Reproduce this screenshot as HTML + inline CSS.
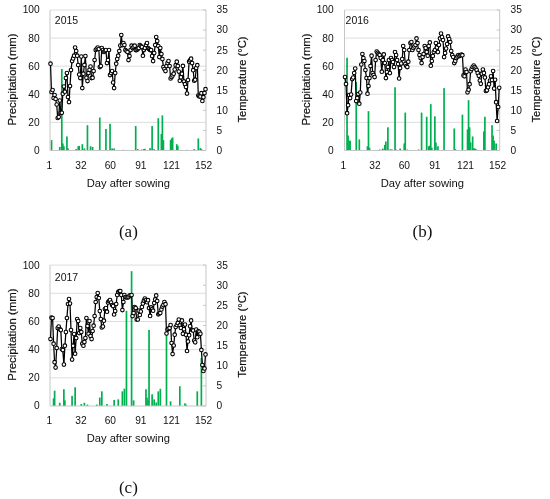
<!DOCTYPE html>
<html lang="en">
<head>
<meta charset="utf-8">
<title>Precipitation and temperature by day after sowing, 2015-2017</title>
<style>
html,body{margin:0;padding:0;background:#fff;}
body{width:550px;height:499px;overflow:hidden;}
svg{display:block;}
</style>
</head>
<body>
<svg width="550" height="499" viewBox="0 0 550 499">
<rect width="550" height="499" fill="#fff"/>
<line x1="50" y1="122.40" x2="206.0" y2="122.40" stroke="#d9d9d9" stroke-width="0.9"/>
<line x1="50" y1="94.30" x2="206.0" y2="94.30" stroke="#d9d9d9" stroke-width="0.9"/>
<line x1="50" y1="66.20" x2="206.0" y2="66.20" stroke="#d9d9d9" stroke-width="0.9"/>
<line x1="50" y1="38.10" x2="206.0" y2="38.10" stroke="#d9d9d9" stroke-width="0.9"/>
<line x1="50" y1="10.00" x2="206.0" y2="10.00" stroke="#d9d9d9" stroke-width="0.9"/>
<rect x="50.69" y="140.10" width="1.7" height="10.40" fill="#00b050"/>
<rect x="58.90" y="146.99" width="1.7" height="3.51" fill="#00b050"/>
<rect x="60.95" y="69.01" width="1.7" height="81.49" fill="#00b050"/>
<rect x="61.98" y="143.47" width="1.7" height="7.03" fill="#00b050"/>
<rect x="63.01" y="146.28" width="1.7" height="4.21" fill="#00b050"/>
<rect x="66.08" y="136.45" width="1.7" height="14.05" fill="#00b050"/>
<rect x="67.11" y="148.39" width="1.7" height="2.11" fill="#00b050"/>
<rect x="75.32" y="149.09" width="1.7" height="1.41" fill="#00b050"/>
<rect x="77.37" y="146.28" width="1.7" height="4.21" fill="#00b050"/>
<rect x="78.40" y="145.86" width="1.7" height="4.64" fill="#00b050"/>
<rect x="81.48" y="144.18" width="1.7" height="6.32" fill="#00b050"/>
<rect x="83.53" y="148.39" width="1.7" height="2.11" fill="#00b050"/>
<rect x="86.61" y="125.21" width="1.7" height="25.29" fill="#00b050"/>
<rect x="89.69" y="146.28" width="1.7" height="4.21" fill="#00b050"/>
<rect x="91.74" y="146.99" width="1.7" height="3.51" fill="#00b050"/>
<rect x="98.93" y="117.48" width="1.7" height="33.02" fill="#00b050"/>
<rect x="105.08" y="129.00" width="1.7" height="21.50" fill="#00b050"/>
<rect x="109.19" y="123.81" width="1.7" height="26.70" fill="#00b050"/>
<rect x="111.24" y="148.39" width="1.7" height="2.11" fill="#00b050"/>
<rect x="113.29" y="148.39" width="1.7" height="2.11" fill="#00b050"/>
<rect x="122.53" y="149.80" width="1.7" height="0.70" fill="#00b050"/>
<rect x="134.85" y="126.05" width="1.7" height="24.45" fill="#00b050"/>
<rect x="136.90" y="149.09" width="1.7" height="1.41" fill="#00b050"/>
<rect x="141.01" y="149.52" width="1.7" height="0.98" fill="#00b050"/>
<rect x="143.06" y="149.09" width="1.7" height="1.41" fill="#00b050"/>
<rect x="144.08" y="148.81" width="1.7" height="1.69" fill="#00b050"/>
<rect x="149.22" y="148.11" width="1.7" height="2.39" fill="#00b050"/>
<rect x="151.27" y="126.05" width="1.7" height="24.45" fill="#00b050"/>
<rect x="153.32" y="149.09" width="1.7" height="1.41" fill="#00b050"/>
<rect x="157.43" y="118.19" width="1.7" height="32.31" fill="#00b050"/>
<rect x="160.51" y="134.06" width="1.7" height="16.44" fill="#00b050"/>
<rect x="161.53" y="115.38" width="1.7" height="35.12" fill="#00b050"/>
<rect x="162.56" y="140.10" width="1.7" height="10.40" fill="#00b050"/>
<rect x="169.74" y="140.10" width="1.7" height="10.40" fill="#00b050"/>
<rect x="170.77" y="138.42" width="1.7" height="12.08" fill="#00b050"/>
<rect x="171.79" y="137.43" width="1.7" height="13.07" fill="#00b050"/>
<rect x="175.90" y="144.18" width="1.7" height="6.32" fill="#00b050"/>
<rect x="176.93" y="145.72" width="1.7" height="4.78" fill="#00b050"/>
<rect x="186.16" y="149.80" width="1.7" height="0.70" fill="#00b050"/>
<rect x="193.35" y="149.09" width="1.7" height="1.41" fill="#00b050"/>
<rect x="197.45" y="138.42" width="1.7" height="12.08" fill="#00b050"/>
<rect x="199.51" y="148.11" width="1.7" height="2.39" fill="#00b050"/>
<rect x="200.53" y="149.09" width="1.7" height="1.41" fill="#00b050"/>
<line x1="50" y1="10" x2="50" y2="150.5" stroke="#c6c6c6" stroke-width="1"/>
<line x1="206.0" y1="10" x2="206.0" y2="150.5" stroke="#c6c6c6" stroke-width="1"/>
<line x1="50" y1="150.5" x2="206.0" y2="150.5" stroke="#c6c6c6" stroke-width="1"/>
<line x1="203.0" y1="150.50" x2="206.0" y2="150.50" stroke="#bfbfbf" stroke-width="0.9"/>
<line x1="203.0" y1="130.43" x2="206.0" y2="130.43" stroke="#bfbfbf" stroke-width="0.9"/>
<line x1="203.0" y1="110.36" x2="206.0" y2="110.36" stroke="#bfbfbf" stroke-width="0.9"/>
<line x1="203.0" y1="90.29" x2="206.0" y2="90.29" stroke="#bfbfbf" stroke-width="0.9"/>
<line x1="203.0" y1="70.21" x2="206.0" y2="70.21" stroke="#bfbfbf" stroke-width="0.9"/>
<line x1="203.0" y1="50.14" x2="206.0" y2="50.14" stroke="#bfbfbf" stroke-width="0.9"/>
<line x1="203.0" y1="30.07" x2="206.0" y2="30.07" stroke="#bfbfbf" stroke-width="0.9"/>
<line x1="203.0" y1="10.00" x2="206.0" y2="10.00" stroke="#bfbfbf" stroke-width="0.9"/>
<polyline fill="none" stroke="#000" stroke-width="1.25" stroke-linejoin="round" points="50.5,63.7 51.5,92.0 52.6,90.0 53.6,98.0 54.6,95.0 55.6,99.0 56.7,104.5 57.7,118.0 58.7,117.0 59.8,100.5 60.8,112.8 61.8,112.8 62.8,93.7 63.9,86.5 64.9,91.7 65.9,78.1 66.9,73.1 68.0,97.1 69.0,102.1 70.0,86.1 71.0,70.1 72.1,61.1 73.1,58.4 74.1,55.7 75.1,47.6 76.2,51.0 77.2,55.7 78.2,65.1 79.2,74.5 80.3,78.1 81.3,56.5 82.3,88.1 83.4,73.7 84.4,64.9 85.4,56.1 86.4,77.7 87.5,81.1 88.5,73.1 89.5,69.8 90.5,66.5 91.6,78.1 92.6,77.7 93.6,71.1 94.6,60.1 95.7,50.0 96.7,48.8 97.7,47.6 98.8,49.0 99.8,67.1 100.8,66.1 101.8,48.0 102.9,50.0 103.9,52.0 104.9,51.0 105.9,50.0 107.0,63.1 108.0,60.1 109.0,50.0 110.0,75.1 111.1,73.1 112.1,71.1 113.1,82.5 114.1,88.1 115.2,73.1 116.2,63.7 117.2,59.1 118.2,55.7 119.3,51.0 120.3,45.6 121.3,35.0 122.4,45.1 123.4,43.0 124.4,45.1 125.4,50.1 126.5,51.1 127.5,52.1 128.5,60.1 129.5,56.1 130.6,50.1 131.6,45.7 132.6,48.1 133.6,46.9 134.7,45.7 135.7,50.1 136.7,50.1 137.8,49.1 138.8,48.1 139.8,45.1 140.8,46.1 141.9,47.1 142.9,55.7 143.9,50.1 144.9,48.1 146.0,45.1 147.0,43.0 148.0,48.1 149.0,49.1 150.1,50.1 151.1,50.1 152.1,56.1 153.1,61.1 154.2,53.1 155.2,45.1 156.2,37.0 157.2,41.0 158.3,46.1 159.3,57.1 160.3,48.1 161.4,54.1 162.4,59.1 163.4,67.1 164.4,69.1 165.5,71.1 166.5,66.1 167.5,63.1 168.5,61.1 169.6,66.1 170.6,78.5 171.6,77.1 172.6,75.4 173.7,73.7 174.7,69.5 175.7,65.2 176.8,61.7 177.8,65.9 178.8,71.6 179.8,80.7 180.9,77.2 181.9,73.7 182.9,65.9 183.9,81.4 185.0,84.2 186.0,87.0 187.0,93.6 188.0,80.0 189.1,61.7 190.1,60.3 191.1,58.7 192.1,63.1 193.2,70.2 194.2,80.7 195.2,79.7 196.2,68.1 197.3,65.2 198.3,95.6 199.3,96.4 200.4,96.4 201.4,93.2 202.4,100.9 203.4,97.2 204.5,93.0 205.5,89.2"/>
<g fill="#fff" stroke="#000" stroke-width="1.1">
<circle cx="50.5" cy="63.7" r="1.8"/>
<circle cx="51.5" cy="92.0" r="1.8"/>
<circle cx="52.6" cy="90.0" r="1.8"/>
<circle cx="53.6" cy="98.0" r="1.8"/>
<circle cx="54.6" cy="95.0" r="1.8"/>
<circle cx="55.6" cy="99.0" r="1.8"/>
<circle cx="56.7" cy="104.5" r="1.8"/>
<circle cx="57.7" cy="118.0" r="1.8"/>
<circle cx="58.7" cy="117.0" r="1.8"/>
<circle cx="59.8" cy="100.5" r="1.8"/>
<circle cx="60.8" cy="112.8" r="1.8"/>
<circle cx="61.8" cy="112.8" r="1.8"/>
<circle cx="62.8" cy="93.7" r="1.8"/>
<circle cx="63.9" cy="86.5" r="1.8"/>
<circle cx="64.9" cy="91.7" r="1.8"/>
<circle cx="65.9" cy="78.1" r="1.8"/>
<circle cx="66.9" cy="73.1" r="1.8"/>
<circle cx="68.0" cy="97.1" r="1.8"/>
<circle cx="69.0" cy="102.1" r="1.8"/>
<circle cx="70.0" cy="86.1" r="1.8"/>
<circle cx="71.0" cy="70.1" r="1.8"/>
<circle cx="72.1" cy="61.1" r="1.8"/>
<circle cx="73.1" cy="58.4" r="1.8"/>
<circle cx="74.1" cy="55.7" r="1.8"/>
<circle cx="75.1" cy="47.6" r="1.8"/>
<circle cx="76.2" cy="51.0" r="1.8"/>
<circle cx="77.2" cy="55.7" r="1.8"/>
<circle cx="78.2" cy="65.1" r="1.8"/>
<circle cx="79.2" cy="74.5" r="1.8"/>
<circle cx="80.3" cy="78.1" r="1.8"/>
<circle cx="81.3" cy="56.5" r="1.8"/>
<circle cx="82.3" cy="88.1" r="1.8"/>
<circle cx="83.4" cy="73.7" r="1.8"/>
<circle cx="84.4" cy="64.9" r="1.8"/>
<circle cx="85.4" cy="56.1" r="1.8"/>
<circle cx="86.4" cy="77.7" r="1.8"/>
<circle cx="87.5" cy="81.1" r="1.8"/>
<circle cx="88.5" cy="73.1" r="1.8"/>
<circle cx="89.5" cy="69.8" r="1.8"/>
<circle cx="90.5" cy="66.5" r="1.8"/>
<circle cx="91.6" cy="78.1" r="1.8"/>
<circle cx="92.6" cy="77.7" r="1.8"/>
<circle cx="93.6" cy="71.1" r="1.8"/>
<circle cx="94.6" cy="60.1" r="1.8"/>
<circle cx="95.7" cy="50.0" r="1.8"/>
<circle cx="96.7" cy="48.8" r="1.8"/>
<circle cx="97.7" cy="47.6" r="1.8"/>
<circle cx="98.8" cy="49.0" r="1.8"/>
<circle cx="99.8" cy="67.1" r="1.8"/>
<circle cx="100.8" cy="66.1" r="1.8"/>
<circle cx="101.8" cy="48.0" r="1.8"/>
<circle cx="102.9" cy="50.0" r="1.8"/>
<circle cx="103.9" cy="52.0" r="1.8"/>
<circle cx="104.9" cy="51.0" r="1.8"/>
<circle cx="105.9" cy="50.0" r="1.8"/>
<circle cx="107.0" cy="63.1" r="1.8"/>
<circle cx="108.0" cy="60.1" r="1.8"/>
<circle cx="109.0" cy="50.0" r="1.8"/>
<circle cx="110.0" cy="75.1" r="1.8"/>
<circle cx="111.1" cy="73.1" r="1.8"/>
<circle cx="112.1" cy="71.1" r="1.8"/>
<circle cx="113.1" cy="82.5" r="1.8"/>
<circle cx="114.1" cy="88.1" r="1.8"/>
<circle cx="115.2" cy="73.1" r="1.8"/>
<circle cx="116.2" cy="63.7" r="1.8"/>
<circle cx="117.2" cy="59.1" r="1.8"/>
<circle cx="118.2" cy="55.7" r="1.8"/>
<circle cx="119.3" cy="51.0" r="1.8"/>
<circle cx="120.3" cy="45.6" r="1.8"/>
<circle cx="121.3" cy="35.0" r="1.8"/>
<circle cx="122.4" cy="45.1" r="1.8"/>
<circle cx="123.4" cy="43.0" r="1.8"/>
<circle cx="124.4" cy="45.1" r="1.8"/>
<circle cx="125.4" cy="50.1" r="1.8"/>
<circle cx="126.5" cy="51.1" r="1.8"/>
<circle cx="127.5" cy="52.1" r="1.8"/>
<circle cx="128.5" cy="60.1" r="1.8"/>
<circle cx="129.5" cy="56.1" r="1.8"/>
<circle cx="130.6" cy="50.1" r="1.8"/>
<circle cx="131.6" cy="45.7" r="1.8"/>
<circle cx="132.6" cy="48.1" r="1.8"/>
<circle cx="133.6" cy="46.9" r="1.8"/>
<circle cx="134.7" cy="45.7" r="1.8"/>
<circle cx="135.7" cy="50.1" r="1.8"/>
<circle cx="136.7" cy="50.1" r="1.8"/>
<circle cx="137.8" cy="49.1" r="1.8"/>
<circle cx="138.8" cy="48.1" r="1.8"/>
<circle cx="139.8" cy="45.1" r="1.8"/>
<circle cx="140.8" cy="46.1" r="1.8"/>
<circle cx="141.9" cy="47.1" r="1.8"/>
<circle cx="142.9" cy="55.7" r="1.8"/>
<circle cx="143.9" cy="50.1" r="1.8"/>
<circle cx="144.9" cy="48.1" r="1.8"/>
<circle cx="146.0" cy="45.1" r="1.8"/>
<circle cx="147.0" cy="43.0" r="1.8"/>
<circle cx="148.0" cy="48.1" r="1.8"/>
<circle cx="149.0" cy="49.1" r="1.8"/>
<circle cx="150.1" cy="50.1" r="1.8"/>
<circle cx="151.1" cy="50.1" r="1.8"/>
<circle cx="152.1" cy="56.1" r="1.8"/>
<circle cx="153.1" cy="61.1" r="1.8"/>
<circle cx="154.2" cy="53.1" r="1.8"/>
<circle cx="155.2" cy="45.1" r="1.8"/>
<circle cx="156.2" cy="37.0" r="1.8"/>
<circle cx="157.2" cy="41.0" r="1.8"/>
<circle cx="158.3" cy="46.1" r="1.8"/>
<circle cx="159.3" cy="57.1" r="1.8"/>
<circle cx="160.3" cy="48.1" r="1.8"/>
<circle cx="161.4" cy="54.1" r="1.8"/>
<circle cx="162.4" cy="59.1" r="1.8"/>
<circle cx="163.4" cy="67.1" r="1.8"/>
<circle cx="164.4" cy="69.1" r="1.8"/>
<circle cx="165.5" cy="71.1" r="1.8"/>
<circle cx="166.5" cy="66.1" r="1.8"/>
<circle cx="167.5" cy="63.1" r="1.8"/>
<circle cx="168.5" cy="61.1" r="1.8"/>
<circle cx="169.6" cy="66.1" r="1.8"/>
<circle cx="170.6" cy="78.5" r="1.8"/>
<circle cx="171.6" cy="77.1" r="1.8"/>
<circle cx="172.6" cy="75.4" r="1.8"/>
<circle cx="173.7" cy="73.7" r="1.8"/>
<circle cx="174.7" cy="69.5" r="1.8"/>
<circle cx="175.7" cy="65.2" r="1.8"/>
<circle cx="176.8" cy="61.7" r="1.8"/>
<circle cx="177.8" cy="65.9" r="1.8"/>
<circle cx="178.8" cy="71.6" r="1.8"/>
<circle cx="179.8" cy="80.7" r="1.8"/>
<circle cx="180.9" cy="77.2" r="1.8"/>
<circle cx="181.9" cy="73.7" r="1.8"/>
<circle cx="182.9" cy="65.9" r="1.8"/>
<circle cx="183.9" cy="81.4" r="1.8"/>
<circle cx="185.0" cy="84.2" r="1.8"/>
<circle cx="186.0" cy="87.0" r="1.8"/>
<circle cx="187.0" cy="93.6" r="1.8"/>
<circle cx="188.0" cy="80.0" r="1.8"/>
<circle cx="189.1" cy="61.7" r="1.8"/>
<circle cx="190.1" cy="60.3" r="1.8"/>
<circle cx="191.1" cy="58.7" r="1.8"/>
<circle cx="192.1" cy="63.1" r="1.8"/>
<circle cx="193.2" cy="70.2" r="1.8"/>
<circle cx="194.2" cy="80.7" r="1.8"/>
<circle cx="195.2" cy="79.7" r="1.8"/>
<circle cx="196.2" cy="68.1" r="1.8"/>
<circle cx="197.3" cy="65.2" r="1.8"/>
<circle cx="198.3" cy="95.6" r="1.8"/>
<circle cx="199.3" cy="96.4" r="1.8"/>
<circle cx="200.4" cy="96.4" r="1.8"/>
<circle cx="201.4" cy="93.2" r="1.8"/>
<circle cx="202.4" cy="100.9" r="1.8"/>
<circle cx="203.4" cy="97.2" r="1.8"/>
<circle cx="204.5" cy="93.0" r="1.8"/>
<circle cx="205.5" cy="89.2" r="1.8"/>
</g>
<g font-family='"Liberation Sans", Arial, sans-serif' font-size="10.2" fill="#111">
<text x="39.7" y="153.90" text-anchor="end">0</text>
<text x="39.7" y="125.80" text-anchor="end">20</text>
<text x="39.7" y="97.70" text-anchor="end">40</text>
<text x="39.7" y="69.60" text-anchor="end">60</text>
<text x="39.7" y="41.50" text-anchor="end">80</text>
<text x="39.7" y="13.40" text-anchor="end">100</text>
<text x="216.6" y="153.90">0</text>
<text x="216.6" y="133.83">5</text>
<text x="216.6" y="113.76">10</text>
<text x="216.6" y="93.69">15</text>
<text x="216.6" y="73.61">20</text>
<text x="216.6" y="53.54">25</text>
<text x="216.6" y="33.47">30</text>
<text x="216.6" y="13.40">35</text>
<text x="49.4" y="168.70" font-size="10.2" text-anchor="middle">1</text>
<text x="81.0" y="168.70" font-size="10.2" text-anchor="middle">32</text>
<text x="110.3" y="168.70" font-size="10.2" text-anchor="middle">60</text>
<text x="140.8" y="168.70" font-size="10.2" text-anchor="middle">91</text>
<text x="171.5" y="168.70" font-size="10.2" text-anchor="middle">121</text>
<text x="203.6" y="168.70" font-size="10.2" text-anchor="middle">152</text>
</g>
<g font-family='"Liberation Sans", Arial, sans-serif' fill="#111">
<text x="54.8" y="23.8" font-size="10.5">2015</text>
<text x="128.3" y="186.7" font-size="11.2" text-anchor="middle">Day after sowing</text>
<text transform="translate(15.700000000000003,79.5) rotate(-90) scale(1.1,1)" font-size="10.35" stroke="#111" stroke-width="0.2" text-anchor="middle">Precipitation (mm)</text>
<text transform="translate(246.0,79.5) rotate(-90) scale(1.1,1)" font-size="10.2" stroke="#111" stroke-width="0.2" text-anchor="middle">Temperature (°C)</text>
</g>
<text x="128.4" y="236.7" font-family='"Liberation Serif", "Times New Roman", serif' font-size="17" text-anchor="middle" fill="#111">(a)</text>
<line x1="344.5" y1="122.40" x2="499.7" y2="122.40" stroke="#d9d9d9" stroke-width="0.9"/>
<line x1="344.5" y1="94.30" x2="499.7" y2="94.30" stroke="#d9d9d9" stroke-width="0.9"/>
<line x1="344.5" y1="66.20" x2="499.7" y2="66.20" stroke="#d9d9d9" stroke-width="0.9"/>
<line x1="344.5" y1="38.10" x2="499.7" y2="38.10" stroke="#d9d9d9" stroke-width="0.9"/>
<line x1="344.5" y1="10.00" x2="499.7" y2="10.00" stroke="#d9d9d9" stroke-width="0.9"/>
<rect x="346.20" y="57.77" width="1.7" height="92.73" fill="#00b050"/>
<rect x="347.22" y="135.47" width="1.7" height="15.03" fill="#00b050"/>
<rect x="348.24" y="140.66" width="1.7" height="9.84" fill="#00b050"/>
<rect x="349.27" y="140.66" width="1.7" height="9.84" fill="#00b050"/>
<rect x="355.39" y="82.08" width="1.7" height="68.42" fill="#00b050"/>
<rect x="358.46" y="139.40" width="1.7" height="11.10" fill="#00b050"/>
<rect x="366.62" y="146.28" width="1.7" height="4.21" fill="#00b050"/>
<rect x="367.64" y="111.16" width="1.7" height="39.34" fill="#00b050"/>
<rect x="368.67" y="147.69" width="1.7" height="2.81" fill="#00b050"/>
<rect x="378.88" y="149.52" width="1.7" height="0.98" fill="#00b050"/>
<rect x="381.94" y="148.53" width="1.7" height="1.97" fill="#00b050"/>
<rect x="383.98" y="144.88" width="1.7" height="5.62" fill="#00b050"/>
<rect x="385.00" y="141.51" width="1.7" height="8.99" fill="#00b050"/>
<rect x="387.04" y="127.32" width="1.7" height="23.18" fill="#00b050"/>
<rect x="389.09" y="149.52" width="1.7" height="0.98" fill="#00b050"/>
<rect x="390.11" y="149.52" width="1.7" height="0.98" fill="#00b050"/>
<rect x="391.13" y="149.52" width="1.7" height="0.98" fill="#00b050"/>
<rect x="394.19" y="87.28" width="1.7" height="63.23" fill="#00b050"/>
<rect x="395.21" y="149.52" width="1.7" height="0.98" fill="#00b050"/>
<rect x="399.30" y="148.53" width="1.7" height="1.97" fill="#00b050"/>
<rect x="403.38" y="143.47" width="1.7" height="7.03" fill="#00b050"/>
<rect x="404.40" y="112.56" width="1.7" height="37.94" fill="#00b050"/>
<rect x="406.44" y="149.52" width="1.7" height="0.98" fill="#00b050"/>
<rect x="417.68" y="149.52" width="1.7" height="0.98" fill="#00b050"/>
<rect x="420.74" y="112.56" width="1.7" height="37.94" fill="#00b050"/>
<rect x="425.84" y="116.78" width="1.7" height="33.72" fill="#00b050"/>
<rect x="427.89" y="146.28" width="1.7" height="4.21" fill="#00b050"/>
<rect x="428.91" y="145.58" width="1.7" height="4.92" fill="#00b050"/>
<rect x="429.93" y="104.13" width="1.7" height="46.37" fill="#00b050"/>
<rect x="430.95" y="147.69" width="1.7" height="2.81" fill="#00b050"/>
<rect x="434.01" y="116.36" width="1.7" height="34.14" fill="#00b050"/>
<rect x="435.03" y="142.49" width="1.7" height="8.01" fill="#00b050"/>
<rect x="437.08" y="146.28" width="1.7" height="4.21" fill="#00b050"/>
<rect x="443.20" y="88.12" width="1.7" height="62.38" fill="#00b050"/>
<rect x="453.41" y="128.44" width="1.7" height="22.06" fill="#00b050"/>
<rect x="454.43" y="149.09" width="1.7" height="1.41" fill="#00b050"/>
<rect x="461.58" y="114.67" width="1.7" height="35.83" fill="#00b050"/>
<rect x="466.69" y="129.43" width="1.7" height="21.07" fill="#00b050"/>
<rect x="467.71" y="100.20" width="1.7" height="50.30" fill="#00b050"/>
<rect x="468.73" y="127.32" width="1.7" height="23.18" fill="#00b050"/>
<rect x="469.75" y="142.49" width="1.7" height="8.01" fill="#00b050"/>
<rect x="471.79" y="136.45" width="1.7" height="14.05" fill="#00b050"/>
<rect x="472.81" y="148.39" width="1.7" height="2.11" fill="#00b050"/>
<rect x="473.83" y="148.39" width="1.7" height="2.11" fill="#00b050"/>
<rect x="474.86" y="149.09" width="1.7" height="1.41" fill="#00b050"/>
<rect x="475.88" y="149.80" width="1.7" height="0.70" fill="#00b050"/>
<rect x="483.02" y="131.39" width="1.7" height="19.11" fill="#00b050"/>
<rect x="484.04" y="116.78" width="1.7" height="33.72" fill="#00b050"/>
<rect x="491.19" y="125.21" width="1.7" height="25.29" fill="#00b050"/>
<rect x="492.21" y="135.47" width="1.7" height="15.03" fill="#00b050"/>
<rect x="493.23" y="140.66" width="1.7" height="9.84" fill="#00b050"/>
<rect x="495.28" y="143.47" width="1.7" height="7.03" fill="#00b050"/>
<line x1="344.5" y1="10" x2="344.5" y2="150.5" stroke="#c6c6c6" stroke-width="1"/>
<line x1="499.7" y1="10" x2="499.7" y2="150.5" stroke="#c6c6c6" stroke-width="1"/>
<line x1="344.5" y1="150.5" x2="499.7" y2="150.5" stroke="#c6c6c6" stroke-width="1"/>
<line x1="496.7" y1="150.50" x2="499.7" y2="150.50" stroke="#bfbfbf" stroke-width="0.9"/>
<line x1="496.7" y1="130.43" x2="499.7" y2="130.43" stroke="#bfbfbf" stroke-width="0.9"/>
<line x1="496.7" y1="110.36" x2="499.7" y2="110.36" stroke="#bfbfbf" stroke-width="0.9"/>
<line x1="496.7" y1="90.29" x2="499.7" y2="90.29" stroke="#bfbfbf" stroke-width="0.9"/>
<line x1="496.7" y1="70.21" x2="499.7" y2="70.21" stroke="#bfbfbf" stroke-width="0.9"/>
<line x1="496.7" y1="50.14" x2="499.7" y2="50.14" stroke="#bfbfbf" stroke-width="0.9"/>
<line x1="496.7" y1="30.07" x2="499.7" y2="30.07" stroke="#bfbfbf" stroke-width="0.9"/>
<line x1="496.7" y1="10.00" x2="499.7" y2="10.00" stroke="#bfbfbf" stroke-width="0.9"/>
<polyline fill="none" stroke="#000" stroke-width="1.25" stroke-linejoin="round" points="345.0,77.1 346.0,84.1 347.1,113.2 348.1,105.2 349.1,95.1 350.1,98.1 351.1,94.5 352.2,79.1 353.2,77.5 354.2,73.0 355.2,68.5 356.2,101.1 357.3,98.1 358.3,94.1 359.3,103.7 360.3,92.5 361.3,64.5 362.4,54.0 363.4,58.1 364.4,61.1 365.4,70.1 366.5,78.1 367.5,93.7 368.5,86.1 369.5,78.1 370.5,66.1 371.6,55.7 372.6,73.1 373.6,75.1 374.6,77.1 375.6,60.1 376.7,51.6 377.7,52.8 378.7,54.0 379.7,55.1 380.7,58.1 381.8,71.7 382.8,60.1 383.8,54.4 384.8,63.1 385.9,78.1 386.9,72.1 387.9,67.1 388.9,60.1 389.9,73.1 391.0,58.1 392.0,60.1 393.0,62.1 394.0,67.1 395.0,52.0 396.1,55.1 397.1,60.1 398.1,64.1 399.1,78.5 400.1,68.1 401.2,63.6 402.2,59.1 403.2,46.0 404.2,50.0 405.3,64.1 406.3,66.1 407.3,67.1 408.3,61.7 409.3,50.0 410.4,43.0 411.4,42.0 412.4,50.0 413.4,48.0 414.4,46.5 415.5,45.0 416.5,38.4 417.5,43.0 418.5,50.1 419.5,55.1 420.6,58.1 421.6,63.1 422.6,57.1 423.6,54.1 424.7,46.1 425.7,48.1 426.7,51.9 427.7,55.7 428.7,46.1 429.8,42.4 430.8,65.7 431.8,61.1 432.8,56.1 433.8,52.1 434.9,50.1 435.9,43.0 436.9,47.6 437.9,52.1 438.9,45.1 440.0,38.4 441.0,33.6 442.0,37.0 443.0,40.0 444.1,57.1 445.1,53.1 446.1,48.6 447.1,44.0 448.1,36.4 449.2,39.0 450.2,42.0 451.2,51.1 452.2,55.1 453.2,57.1 454.3,63.1 455.3,61.1 456.3,58.1 457.3,56.6 458.3,55.1 459.4,56.1 460.4,55.3 461.4,54.5 462.4,55.2 463.5,75.4 464.5,76.3 465.5,69.5 466.5,72.0 467.5,92.3 468.6,89.7 469.6,84.2 470.6,71.2 471.6,69.1 472.6,67.0 473.7,65.6 474.7,67.0 475.7,68.5 476.7,70.0 477.7,72.9 478.8,75.8 479.8,80.5 480.8,83.8 481.8,73.7 482.9,69.5 483.9,72.9 484.9,77.4 485.9,90.9 486.9,90.3 488.0,87.2 489.0,84.2 490.0,80.5 491.0,76.3 492.0,80.1 493.1,71.0 494.1,88.6 495.1,79.8 496.1,102.2 497.1,121.0 498.2,107.0 499.2,87.8"/>
<g fill="#fff" stroke="#000" stroke-width="1.1">
<circle cx="345.0" cy="77.1" r="1.8"/>
<circle cx="346.0" cy="84.1" r="1.8"/>
<circle cx="347.1" cy="113.2" r="1.8"/>
<circle cx="348.1" cy="105.2" r="1.8"/>
<circle cx="349.1" cy="95.1" r="1.8"/>
<circle cx="350.1" cy="98.1" r="1.8"/>
<circle cx="351.1" cy="94.5" r="1.8"/>
<circle cx="352.2" cy="79.1" r="1.8"/>
<circle cx="353.2" cy="77.5" r="1.8"/>
<circle cx="354.2" cy="73.0" r="1.8"/>
<circle cx="355.2" cy="68.5" r="1.8"/>
<circle cx="356.2" cy="101.1" r="1.8"/>
<circle cx="357.3" cy="98.1" r="1.8"/>
<circle cx="358.3" cy="94.1" r="1.8"/>
<circle cx="359.3" cy="103.7" r="1.8"/>
<circle cx="360.3" cy="92.5" r="1.8"/>
<circle cx="361.3" cy="64.5" r="1.8"/>
<circle cx="362.4" cy="54.0" r="1.8"/>
<circle cx="363.4" cy="58.1" r="1.8"/>
<circle cx="364.4" cy="61.1" r="1.8"/>
<circle cx="365.4" cy="70.1" r="1.8"/>
<circle cx="366.5" cy="78.1" r="1.8"/>
<circle cx="367.5" cy="93.7" r="1.8"/>
<circle cx="368.5" cy="86.1" r="1.8"/>
<circle cx="369.5" cy="78.1" r="1.8"/>
<circle cx="370.5" cy="66.1" r="1.8"/>
<circle cx="371.6" cy="55.7" r="1.8"/>
<circle cx="372.6" cy="73.1" r="1.8"/>
<circle cx="373.6" cy="75.1" r="1.8"/>
<circle cx="374.6" cy="77.1" r="1.8"/>
<circle cx="375.6" cy="60.1" r="1.8"/>
<circle cx="376.7" cy="51.6" r="1.8"/>
<circle cx="377.7" cy="52.8" r="1.8"/>
<circle cx="378.7" cy="54.0" r="1.8"/>
<circle cx="379.7" cy="55.1" r="1.8"/>
<circle cx="380.7" cy="58.1" r="1.8"/>
<circle cx="381.8" cy="71.7" r="1.8"/>
<circle cx="382.8" cy="60.1" r="1.8"/>
<circle cx="383.8" cy="54.4" r="1.8"/>
<circle cx="384.8" cy="63.1" r="1.8"/>
<circle cx="385.9" cy="78.1" r="1.8"/>
<circle cx="386.9" cy="72.1" r="1.8"/>
<circle cx="387.9" cy="67.1" r="1.8"/>
<circle cx="388.9" cy="60.1" r="1.8"/>
<circle cx="389.9" cy="73.1" r="1.8"/>
<circle cx="391.0" cy="58.1" r="1.8"/>
<circle cx="392.0" cy="60.1" r="1.8"/>
<circle cx="393.0" cy="62.1" r="1.8"/>
<circle cx="394.0" cy="67.1" r="1.8"/>
<circle cx="395.0" cy="52.0" r="1.8"/>
<circle cx="396.1" cy="55.1" r="1.8"/>
<circle cx="397.1" cy="60.1" r="1.8"/>
<circle cx="398.1" cy="64.1" r="1.8"/>
<circle cx="399.1" cy="78.5" r="1.8"/>
<circle cx="400.1" cy="68.1" r="1.8"/>
<circle cx="401.2" cy="63.6" r="1.8"/>
<circle cx="402.2" cy="59.1" r="1.8"/>
<circle cx="403.2" cy="46.0" r="1.8"/>
<circle cx="404.2" cy="50.0" r="1.8"/>
<circle cx="405.3" cy="64.1" r="1.8"/>
<circle cx="406.3" cy="66.1" r="1.8"/>
<circle cx="407.3" cy="67.1" r="1.8"/>
<circle cx="408.3" cy="61.7" r="1.8"/>
<circle cx="409.3" cy="50.0" r="1.8"/>
<circle cx="410.4" cy="43.0" r="1.8"/>
<circle cx="411.4" cy="42.0" r="1.8"/>
<circle cx="412.4" cy="50.0" r="1.8"/>
<circle cx="413.4" cy="48.0" r="1.8"/>
<circle cx="414.4" cy="46.5" r="1.8"/>
<circle cx="415.5" cy="45.0" r="1.8"/>
<circle cx="416.5" cy="38.4" r="1.8"/>
<circle cx="417.5" cy="43.0" r="1.8"/>
<circle cx="418.5" cy="50.1" r="1.8"/>
<circle cx="419.5" cy="55.1" r="1.8"/>
<circle cx="420.6" cy="58.1" r="1.8"/>
<circle cx="421.6" cy="63.1" r="1.8"/>
<circle cx="422.6" cy="57.1" r="1.8"/>
<circle cx="423.6" cy="54.1" r="1.8"/>
<circle cx="424.7" cy="46.1" r="1.8"/>
<circle cx="425.7" cy="48.1" r="1.8"/>
<circle cx="426.7" cy="51.9" r="1.8"/>
<circle cx="427.7" cy="55.7" r="1.8"/>
<circle cx="428.7" cy="46.1" r="1.8"/>
<circle cx="429.8" cy="42.4" r="1.8"/>
<circle cx="430.8" cy="65.7" r="1.8"/>
<circle cx="431.8" cy="61.1" r="1.8"/>
<circle cx="432.8" cy="56.1" r="1.8"/>
<circle cx="433.8" cy="52.1" r="1.8"/>
<circle cx="434.9" cy="50.1" r="1.8"/>
<circle cx="435.9" cy="43.0" r="1.8"/>
<circle cx="436.9" cy="47.6" r="1.8"/>
<circle cx="437.9" cy="52.1" r="1.8"/>
<circle cx="438.9" cy="45.1" r="1.8"/>
<circle cx="440.0" cy="38.4" r="1.8"/>
<circle cx="441.0" cy="33.6" r="1.8"/>
<circle cx="442.0" cy="37.0" r="1.8"/>
<circle cx="443.0" cy="40.0" r="1.8"/>
<circle cx="444.1" cy="57.1" r="1.8"/>
<circle cx="445.1" cy="53.1" r="1.8"/>
<circle cx="446.1" cy="48.6" r="1.8"/>
<circle cx="447.1" cy="44.0" r="1.8"/>
<circle cx="448.1" cy="36.4" r="1.8"/>
<circle cx="449.2" cy="39.0" r="1.8"/>
<circle cx="450.2" cy="42.0" r="1.8"/>
<circle cx="451.2" cy="51.1" r="1.8"/>
<circle cx="452.2" cy="55.1" r="1.8"/>
<circle cx="453.2" cy="57.1" r="1.8"/>
<circle cx="454.3" cy="63.1" r="1.8"/>
<circle cx="455.3" cy="61.1" r="1.8"/>
<circle cx="456.3" cy="58.1" r="1.8"/>
<circle cx="457.3" cy="56.6" r="1.8"/>
<circle cx="458.3" cy="55.1" r="1.8"/>
<circle cx="459.4" cy="56.1" r="1.8"/>
<circle cx="460.4" cy="55.3" r="1.8"/>
<circle cx="461.4" cy="54.5" r="1.8"/>
<circle cx="462.4" cy="55.2" r="1.8"/>
<circle cx="463.5" cy="75.4" r="1.8"/>
<circle cx="464.5" cy="76.3" r="1.8"/>
<circle cx="465.5" cy="69.5" r="1.8"/>
<circle cx="466.5" cy="72.0" r="1.8"/>
<circle cx="467.5" cy="92.3" r="1.8"/>
<circle cx="468.6" cy="89.7" r="1.8"/>
<circle cx="469.6" cy="84.2" r="1.8"/>
<circle cx="470.6" cy="71.2" r="1.8"/>
<circle cx="471.6" cy="69.1" r="1.8"/>
<circle cx="472.6" cy="67.0" r="1.8"/>
<circle cx="473.7" cy="65.6" r="1.8"/>
<circle cx="474.7" cy="67.0" r="1.8"/>
<circle cx="475.7" cy="68.5" r="1.8"/>
<circle cx="476.7" cy="70.0" r="1.8"/>
<circle cx="477.7" cy="72.9" r="1.8"/>
<circle cx="478.8" cy="75.8" r="1.8"/>
<circle cx="479.8" cy="80.5" r="1.8"/>
<circle cx="480.8" cy="83.8" r="1.8"/>
<circle cx="481.8" cy="73.7" r="1.8"/>
<circle cx="482.9" cy="69.5" r="1.8"/>
<circle cx="483.9" cy="72.9" r="1.8"/>
<circle cx="484.9" cy="77.4" r="1.8"/>
<circle cx="485.9" cy="90.9" r="1.8"/>
<circle cx="486.9" cy="90.3" r="1.8"/>
<circle cx="488.0" cy="87.2" r="1.8"/>
<circle cx="489.0" cy="84.2" r="1.8"/>
<circle cx="490.0" cy="80.5" r="1.8"/>
<circle cx="491.0" cy="76.3" r="1.8"/>
<circle cx="492.0" cy="80.1" r="1.8"/>
<circle cx="493.1" cy="71.0" r="1.8"/>
<circle cx="494.1" cy="88.6" r="1.8"/>
<circle cx="495.1" cy="79.8" r="1.8"/>
<circle cx="496.1" cy="102.2" r="1.8"/>
<circle cx="497.1" cy="121.0" r="1.8"/>
<circle cx="498.2" cy="107.0" r="1.8"/>
<circle cx="499.2" cy="87.8" r="1.8"/>
</g>
<g font-family='"Liberation Sans", Arial, sans-serif' font-size="10.2" fill="#111">
<text x="333.7" y="153.90" text-anchor="end">0</text>
<text x="333.7" y="125.80" text-anchor="end">20</text>
<text x="333.7" y="97.70" text-anchor="end">40</text>
<text x="333.7" y="69.60" text-anchor="end">60</text>
<text x="333.7" y="41.50" text-anchor="end">80</text>
<text x="333.7" y="13.40" text-anchor="end">100</text>
<text x="510.6" y="153.90">0</text>
<text x="510.6" y="133.83">5</text>
<text x="510.6" y="113.76">10</text>
<text x="510.6" y="93.69">15</text>
<text x="510.6" y="73.61">20</text>
<text x="510.6" y="53.54">25</text>
<text x="510.6" y="33.47">30</text>
<text x="510.6" y="13.40">35</text>
<text x="343.4" y="168.70" font-size="10.2" text-anchor="middle">1</text>
<text x="375.0" y="168.70" font-size="10.2" text-anchor="middle">32</text>
<text x="404.3" y="168.70" font-size="10.2" text-anchor="middle">60</text>
<text x="434.8" y="168.70" font-size="10.2" text-anchor="middle">91</text>
<text x="465.5" y="168.70" font-size="10.2" text-anchor="middle">121</text>
<text x="497.6" y="168.70" font-size="10.2" text-anchor="middle">152</text>
</g>
<g font-family='"Liberation Sans", Arial, sans-serif' fill="#111">
<text x="345.6" y="23.8" font-size="10.5">2016</text>
<text x="422.3" y="186.7" font-size="11.2" text-anchor="middle">Day after sowing</text>
<text transform="translate(309.7,79.5) rotate(-90) scale(1.1,1)" font-size="10.35" stroke="#111" stroke-width="0.2" text-anchor="middle">Precipitation (mm)</text>
<text transform="translate(540.0,79.5) rotate(-90) scale(1.1,1)" font-size="10.2" stroke="#111" stroke-width="0.2" text-anchor="middle">Temperature (°C)</text>
</g>
<text x="422.4" y="236.7" font-family='"Liberation Serif", "Times New Roman", serif' font-size="17" text-anchor="middle" fill="#111">(b)</text>
<line x1="50" y1="377.82" x2="206.0" y2="377.82" stroke="#d9d9d9" stroke-width="0.9"/>
<line x1="50" y1="349.64" x2="206.0" y2="349.64" stroke="#d9d9d9" stroke-width="0.9"/>
<line x1="50" y1="321.46" x2="206.0" y2="321.46" stroke="#d9d9d9" stroke-width="0.9"/>
<line x1="50" y1="293.28" x2="206.0" y2="293.28" stroke="#d9d9d9" stroke-width="0.9"/>
<line x1="50" y1="265.10" x2="206.0" y2="265.10" stroke="#d9d9d9" stroke-width="0.9"/>
<rect x="52.74" y="398.39" width="1.7" height="7.61" fill="#00b050"/>
<rect x="53.77" y="390.64" width="1.7" height="15.36" fill="#00b050"/>
<rect x="58.90" y="402.76" width="1.7" height="3.24" fill="#00b050"/>
<rect x="63.01" y="389.23" width="1.7" height="16.77" fill="#00b050"/>
<rect x="64.03" y="400.36" width="1.7" height="5.64" fill="#00b050"/>
<rect x="71.22" y="395.86" width="1.7" height="10.14" fill="#00b050"/>
<rect x="74.29" y="387.26" width="1.7" height="18.74" fill="#00b050"/>
<rect x="80.45" y="404.03" width="1.7" height="1.97" fill="#00b050"/>
<rect x="83.53" y="402.76" width="1.7" height="3.24" fill="#00b050"/>
<rect x="86.61" y="404.59" width="1.7" height="1.41" fill="#00b050"/>
<rect x="95.85" y="404.59" width="1.7" height="1.41" fill="#00b050"/>
<rect x="98.93" y="397.55" width="1.7" height="8.45" fill="#00b050"/>
<rect x="100.98" y="391.35" width="1.7" height="14.65" fill="#00b050"/>
<rect x="106.11" y="404.03" width="1.7" height="1.97" fill="#00b050"/>
<rect x="113.29" y="399.94" width="1.7" height="6.06" fill="#00b050"/>
<rect x="117.40" y="399.38" width="1.7" height="6.62" fill="#00b050"/>
<rect x="121.51" y="391.35" width="1.7" height="14.65" fill="#00b050"/>
<rect x="123.56" y="388.67" width="1.7" height="17.33" fill="#00b050"/>
<rect x="125.61" y="310.89" width="1.7" height="95.11" fill="#00b050"/>
<rect x="130.74" y="271.16" width="1.7" height="134.84" fill="#00b050"/>
<rect x="132.79" y="400.36" width="1.7" height="5.64" fill="#00b050"/>
<rect x="145.11" y="389.23" width="1.7" height="16.77" fill="#00b050"/>
<rect x="146.14" y="397.55" width="1.7" height="8.45" fill="#00b050"/>
<rect x="147.16" y="400.36" width="1.7" height="5.64" fill="#00b050"/>
<rect x="148.19" y="329.91" width="1.7" height="76.09" fill="#00b050"/>
<rect x="151.27" y="394.31" width="1.7" height="11.69" fill="#00b050"/>
<rect x="153.32" y="399.38" width="1.7" height="6.62" fill="#00b050"/>
<rect x="155.37" y="402.48" width="1.7" height="3.52" fill="#00b050"/>
<rect x="157.43" y="391.35" width="1.7" height="14.65" fill="#00b050"/>
<rect x="159.48" y="388.81" width="1.7" height="17.19" fill="#00b050"/>
<rect x="165.64" y="334.85" width="1.7" height="71.15" fill="#00b050"/>
<rect x="169.74" y="401.35" width="1.7" height="4.65" fill="#00b050"/>
<rect x="178.98" y="386.27" width="1.7" height="19.73" fill="#00b050"/>
<rect x="184.11" y="403.32" width="1.7" height="2.68" fill="#00b050"/>
<rect x="185.14" y="404.59" width="1.7" height="1.41" fill="#00b050"/>
<rect x="196.43" y="391.35" width="1.7" height="14.65" fill="#00b050"/>
<rect x="200.53" y="358.09" width="1.7" height="47.91" fill="#00b050"/>
<line x1="50" y1="265.1" x2="50" y2="406.0" stroke="#c6c6c6" stroke-width="1"/>
<line x1="206.0" y1="265.1" x2="206.0" y2="406.0" stroke="#c6c6c6" stroke-width="1"/>
<line x1="50" y1="406.0" x2="206.0" y2="406.0" stroke="#c6c6c6" stroke-width="1"/>
<line x1="203.0" y1="406.00" x2="206.0" y2="406.00" stroke="#bfbfbf" stroke-width="0.9"/>
<line x1="203.0" y1="385.87" x2="206.0" y2="385.87" stroke="#bfbfbf" stroke-width="0.9"/>
<line x1="203.0" y1="365.74" x2="206.0" y2="365.74" stroke="#bfbfbf" stroke-width="0.9"/>
<line x1="203.0" y1="345.61" x2="206.0" y2="345.61" stroke="#bfbfbf" stroke-width="0.9"/>
<line x1="203.0" y1="325.49" x2="206.0" y2="325.49" stroke="#bfbfbf" stroke-width="0.9"/>
<line x1="203.0" y1="305.36" x2="206.0" y2="305.36" stroke="#bfbfbf" stroke-width="0.9"/>
<line x1="203.0" y1="285.23" x2="206.0" y2="285.23" stroke="#bfbfbf" stroke-width="0.9"/>
<line x1="203.0" y1="265.10" x2="206.0" y2="265.10" stroke="#bfbfbf" stroke-width="0.9"/>
<polyline fill="none" stroke="#000" stroke-width="1.25" stroke-linejoin="round" points="50.5,339.1 51.5,317.7 52.6,318.1 53.6,343.7 54.6,362.2 55.6,367.6 56.7,348.1 57.7,328.1 58.7,326.5 59.8,329.1 60.8,330.1 61.8,349.1 62.8,350.1 63.9,364.6 64.9,345.7 65.9,332.1 66.9,318.1 68.0,304.0 69.0,299.0 70.0,303.6 71.0,330.1 72.1,359.6 73.1,345.7 74.1,334.1 75.1,353.7 76.2,338.1 77.2,319.1 78.2,321.1 79.2,333.1 80.3,328.1 81.3,332.1 82.3,343.7 83.4,345.7 84.4,341.9 85.4,338.1 86.4,318.1 87.5,326.1 88.5,333.7 89.5,321.1 90.5,336.1 91.6,339.1 92.6,331.1 93.6,325.7 94.6,316.1 95.7,302.0 96.7,297.0 97.7,293.0 98.8,298.0 99.8,311.1 100.8,319.1 101.8,327.5 102.9,326.5 103.9,320.7 104.9,309.1 105.9,308.1 107.0,311.7 108.0,302.4 109.0,301.0 110.0,300.0 111.1,302.5 112.1,305.1 113.1,306.1 114.1,314.5 115.2,311.1 116.2,304.0 117.2,295.0 118.2,292.1 119.3,291.1 120.3,291.1 121.3,295.1 122.4,310.1 123.4,302.1 124.4,295.1 125.4,297.1 126.5,297.3 127.5,297.5 128.5,297.1 129.5,295.5 130.6,295.3 131.6,295.1 132.6,316.1 133.6,313.1 134.7,307.1 135.7,308.1 136.7,319.5 137.8,319.5 138.8,310.7 139.8,315.0 140.8,311.5 141.9,307.0 142.9,303.4 143.9,300.6 144.9,298.6 146.0,300.0 147.0,302.2 148.0,300.2 149.0,308.0 150.1,315.9 151.1,307.4 152.1,309.0 153.1,310.7 154.2,303.0 155.2,299.4 156.2,295.4 157.2,301.0 158.3,314.3 159.3,313.5 160.3,313.0 161.4,309.4 162.4,306.6 163.4,305.0 164.4,302.0 165.5,304.2 166.5,333.5 167.5,329.6 168.5,328.8 169.6,327.9 170.6,325.1 171.6,343.1 172.6,354.1 173.7,345.6 174.7,334.7 175.7,327.1 176.8,325.0 177.8,322.9 178.8,319.5 179.8,325.4 180.9,327.9 181.9,320.4 182.9,333.8 183.9,329.2 185.0,324.6 186.0,334.7 187.0,351.0 188.0,341.4 189.1,335.2 190.1,326.3 191.1,320.4 192.1,330.1 193.2,330.5 194.2,340.6 195.2,342.3 196.2,329.6 197.3,337.2 198.3,331.3 199.3,331.8 200.4,333.8 201.4,349.9 202.4,365.0 203.4,370.9 204.5,368.4 205.5,354.4"/>
<g fill="#fff" stroke="#000" stroke-width="1.1">
<circle cx="50.5" cy="339.1" r="1.8"/>
<circle cx="51.5" cy="317.7" r="1.8"/>
<circle cx="52.6" cy="318.1" r="1.8"/>
<circle cx="53.6" cy="343.7" r="1.8"/>
<circle cx="54.6" cy="362.2" r="1.8"/>
<circle cx="55.6" cy="367.6" r="1.8"/>
<circle cx="56.7" cy="348.1" r="1.8"/>
<circle cx="57.7" cy="328.1" r="1.8"/>
<circle cx="58.7" cy="326.5" r="1.8"/>
<circle cx="59.8" cy="329.1" r="1.8"/>
<circle cx="60.8" cy="330.1" r="1.8"/>
<circle cx="61.8" cy="349.1" r="1.8"/>
<circle cx="62.8" cy="350.1" r="1.8"/>
<circle cx="63.9" cy="364.6" r="1.8"/>
<circle cx="64.9" cy="345.7" r="1.8"/>
<circle cx="65.9" cy="332.1" r="1.8"/>
<circle cx="66.9" cy="318.1" r="1.8"/>
<circle cx="68.0" cy="304.0" r="1.8"/>
<circle cx="69.0" cy="299.0" r="1.8"/>
<circle cx="70.0" cy="303.6" r="1.8"/>
<circle cx="71.0" cy="330.1" r="1.8"/>
<circle cx="72.1" cy="359.6" r="1.8"/>
<circle cx="73.1" cy="345.7" r="1.8"/>
<circle cx="74.1" cy="334.1" r="1.8"/>
<circle cx="75.1" cy="353.7" r="1.8"/>
<circle cx="76.2" cy="338.1" r="1.8"/>
<circle cx="77.2" cy="319.1" r="1.8"/>
<circle cx="78.2" cy="321.1" r="1.8"/>
<circle cx="79.2" cy="333.1" r="1.8"/>
<circle cx="80.3" cy="328.1" r="1.8"/>
<circle cx="81.3" cy="332.1" r="1.8"/>
<circle cx="82.3" cy="343.7" r="1.8"/>
<circle cx="83.4" cy="345.7" r="1.8"/>
<circle cx="84.4" cy="341.9" r="1.8"/>
<circle cx="85.4" cy="338.1" r="1.8"/>
<circle cx="86.4" cy="318.1" r="1.8"/>
<circle cx="87.5" cy="326.1" r="1.8"/>
<circle cx="88.5" cy="333.7" r="1.8"/>
<circle cx="89.5" cy="321.1" r="1.8"/>
<circle cx="90.5" cy="336.1" r="1.8"/>
<circle cx="91.6" cy="339.1" r="1.8"/>
<circle cx="92.6" cy="331.1" r="1.8"/>
<circle cx="93.6" cy="325.7" r="1.8"/>
<circle cx="94.6" cy="316.1" r="1.8"/>
<circle cx="95.7" cy="302.0" r="1.8"/>
<circle cx="96.7" cy="297.0" r="1.8"/>
<circle cx="97.7" cy="293.0" r="1.8"/>
<circle cx="98.8" cy="298.0" r="1.8"/>
<circle cx="99.8" cy="311.1" r="1.8"/>
<circle cx="100.8" cy="319.1" r="1.8"/>
<circle cx="101.8" cy="327.5" r="1.8"/>
<circle cx="102.9" cy="326.5" r="1.8"/>
<circle cx="103.9" cy="320.7" r="1.8"/>
<circle cx="104.9" cy="309.1" r="1.8"/>
<circle cx="105.9" cy="308.1" r="1.8"/>
<circle cx="107.0" cy="311.7" r="1.8"/>
<circle cx="108.0" cy="302.4" r="1.8"/>
<circle cx="109.0" cy="301.0" r="1.8"/>
<circle cx="110.0" cy="300.0" r="1.8"/>
<circle cx="111.1" cy="302.5" r="1.8"/>
<circle cx="112.1" cy="305.1" r="1.8"/>
<circle cx="113.1" cy="306.1" r="1.8"/>
<circle cx="114.1" cy="314.5" r="1.8"/>
<circle cx="115.2" cy="311.1" r="1.8"/>
<circle cx="116.2" cy="304.0" r="1.8"/>
<circle cx="117.2" cy="295.0" r="1.8"/>
<circle cx="118.2" cy="292.1" r="1.8"/>
<circle cx="119.3" cy="291.1" r="1.8"/>
<circle cx="120.3" cy="291.1" r="1.8"/>
<circle cx="121.3" cy="295.1" r="1.8"/>
<circle cx="122.4" cy="310.1" r="1.8"/>
<circle cx="123.4" cy="302.1" r="1.8"/>
<circle cx="124.4" cy="295.1" r="1.8"/>
<circle cx="125.4" cy="297.1" r="1.8"/>
<circle cx="126.5" cy="297.3" r="1.8"/>
<circle cx="127.5" cy="297.5" r="1.8"/>
<circle cx="128.5" cy="297.1" r="1.8"/>
<circle cx="129.5" cy="295.5" r="1.8"/>
<circle cx="130.6" cy="295.3" r="1.8"/>
<circle cx="131.6" cy="295.1" r="1.8"/>
<circle cx="132.6" cy="316.1" r="1.8"/>
<circle cx="133.6" cy="313.1" r="1.8"/>
<circle cx="134.7" cy="307.1" r="1.8"/>
<circle cx="135.7" cy="308.1" r="1.8"/>
<circle cx="136.7" cy="319.5" r="1.8"/>
<circle cx="137.8" cy="319.5" r="1.8"/>
<circle cx="138.8" cy="310.7" r="1.8"/>
<circle cx="139.8" cy="315.0" r="1.8"/>
<circle cx="140.8" cy="311.5" r="1.8"/>
<circle cx="141.9" cy="307.0" r="1.8"/>
<circle cx="142.9" cy="303.4" r="1.8"/>
<circle cx="143.9" cy="300.6" r="1.8"/>
<circle cx="144.9" cy="298.6" r="1.8"/>
<circle cx="146.0" cy="300.0" r="1.8"/>
<circle cx="147.0" cy="302.2" r="1.8"/>
<circle cx="148.0" cy="300.2" r="1.8"/>
<circle cx="149.0" cy="308.0" r="1.8"/>
<circle cx="150.1" cy="315.9" r="1.8"/>
<circle cx="151.1" cy="307.4" r="1.8"/>
<circle cx="152.1" cy="309.0" r="1.8"/>
<circle cx="153.1" cy="310.7" r="1.8"/>
<circle cx="154.2" cy="303.0" r="1.8"/>
<circle cx="155.2" cy="299.4" r="1.8"/>
<circle cx="156.2" cy="295.4" r="1.8"/>
<circle cx="157.2" cy="301.0" r="1.8"/>
<circle cx="158.3" cy="314.3" r="1.8"/>
<circle cx="159.3" cy="313.5" r="1.8"/>
<circle cx="160.3" cy="313.0" r="1.8"/>
<circle cx="161.4" cy="309.4" r="1.8"/>
<circle cx="162.4" cy="306.6" r="1.8"/>
<circle cx="163.4" cy="305.0" r="1.8"/>
<circle cx="164.4" cy="302.0" r="1.8"/>
<circle cx="165.5" cy="304.2" r="1.8"/>
<circle cx="166.5" cy="333.5" r="1.8"/>
<circle cx="167.5" cy="329.6" r="1.8"/>
<circle cx="168.5" cy="328.8" r="1.8"/>
<circle cx="169.6" cy="327.9" r="1.8"/>
<circle cx="170.6" cy="325.1" r="1.8"/>
<circle cx="171.6" cy="343.1" r="1.8"/>
<circle cx="172.6" cy="354.1" r="1.8"/>
<circle cx="173.7" cy="345.6" r="1.8"/>
<circle cx="174.7" cy="334.7" r="1.8"/>
<circle cx="175.7" cy="327.1" r="1.8"/>
<circle cx="176.8" cy="325.0" r="1.8"/>
<circle cx="177.8" cy="322.9" r="1.8"/>
<circle cx="178.8" cy="319.5" r="1.8"/>
<circle cx="179.8" cy="325.4" r="1.8"/>
<circle cx="180.9" cy="327.9" r="1.8"/>
<circle cx="181.9" cy="320.4" r="1.8"/>
<circle cx="182.9" cy="333.8" r="1.8"/>
<circle cx="183.9" cy="329.2" r="1.8"/>
<circle cx="185.0" cy="324.6" r="1.8"/>
<circle cx="186.0" cy="334.7" r="1.8"/>
<circle cx="187.0" cy="351.0" r="1.8"/>
<circle cx="188.0" cy="341.4" r="1.8"/>
<circle cx="189.1" cy="335.2" r="1.8"/>
<circle cx="190.1" cy="326.3" r="1.8"/>
<circle cx="191.1" cy="320.4" r="1.8"/>
<circle cx="192.1" cy="330.1" r="1.8"/>
<circle cx="193.2" cy="330.5" r="1.8"/>
<circle cx="194.2" cy="340.6" r="1.8"/>
<circle cx="195.2" cy="342.3" r="1.8"/>
<circle cx="196.2" cy="329.6" r="1.8"/>
<circle cx="197.3" cy="337.2" r="1.8"/>
<circle cx="198.3" cy="331.3" r="1.8"/>
<circle cx="199.3" cy="331.8" r="1.8"/>
<circle cx="200.4" cy="333.8" r="1.8"/>
<circle cx="201.4" cy="349.9" r="1.8"/>
<circle cx="202.4" cy="365.0" r="1.8"/>
<circle cx="203.4" cy="370.9" r="1.8"/>
<circle cx="204.5" cy="368.4" r="1.8"/>
<circle cx="205.5" cy="354.4" r="1.8"/>
</g>
<g font-family='"Liberation Sans", Arial, sans-serif' font-size="10.2" fill="#111">
<text x="39.7" y="409.40" text-anchor="end">0</text>
<text x="39.7" y="381.22" text-anchor="end">20</text>
<text x="39.7" y="353.04" text-anchor="end">40</text>
<text x="39.7" y="324.86" text-anchor="end">60</text>
<text x="39.7" y="296.68" text-anchor="end">80</text>
<text x="39.7" y="268.50" text-anchor="end">100</text>
<text x="216.6" y="409.40">0</text>
<text x="216.6" y="389.27">5</text>
<text x="216.6" y="369.14">10</text>
<text x="216.6" y="349.01">15</text>
<text x="216.6" y="328.89">20</text>
<text x="216.6" y="308.76">25</text>
<text x="216.6" y="288.63">30</text>
<text x="216.6" y="268.50">35</text>
<text x="49.4" y="424.20" font-size="10.2" text-anchor="middle">1</text>
<text x="81.0" y="424.20" font-size="10.2" text-anchor="middle">32</text>
<text x="110.3" y="424.20" font-size="10.2" text-anchor="middle">60</text>
<text x="140.8" y="424.20" font-size="10.2" text-anchor="middle">91</text>
<text x="171.5" y="424.20" font-size="10.2" text-anchor="middle">121</text>
<text x="203.6" y="424.20" font-size="10.2" text-anchor="middle">152</text>
</g>
<g font-family='"Liberation Sans", Arial, sans-serif' fill="#111">
<text x="54.8" y="280.6" font-size="10.5">2017</text>
<text x="128.3" y="442.2" font-size="11.2" text-anchor="middle">Day after sowing</text>
<text transform="translate(15.700000000000003,334.6) rotate(-90) scale(1.1,1)" font-size="10.35" stroke="#111" stroke-width="0.2" text-anchor="middle">Precipitation (mm)</text>
<text transform="translate(246.0,334.6) rotate(-90) scale(1.1,1)" font-size="10.2" stroke="#111" stroke-width="0.2" text-anchor="middle">Temperature (°C)</text>
</g>
<text x="128.4" y="493.0" font-family='"Liberation Serif", "Times New Roman", serif' font-size="17" text-anchor="middle" fill="#111">(c)</text>
</svg>
</body>
</html>
